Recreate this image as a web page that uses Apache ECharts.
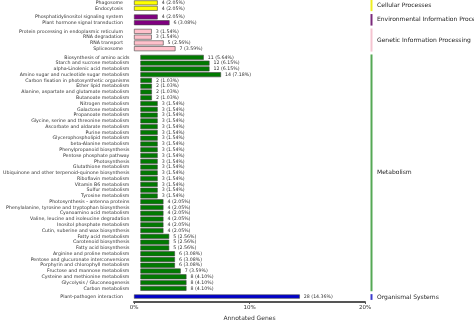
<!DOCTYPE html>
<html>
<head>
<meta charset="utf-8">
<script src="https://cdn.jsdelivr.net/npm/echarts@6/dist/echarts.min.js"></script>
<style>
  html, body { margin: 0; padding: 0; background: #fff; }
  #chart { width: 474px; height: 322px; }
</style>
</head>
<body>
<div id="chart"></div>
<script>
// KEGG pathway annotation: gene counts per pathway, grouped by class
const TOTAL_GENES = 195;

const cellularNames = ['Phagosome', 'Endocytosis'];
const cellularCounts = [4, 4];

const envNames = ['Phosphatidylinositol signaling system', 'Plant hormone signal transduction'];
const envCounts = [4, 6];

const geneticNames = ['Protein processing in endoplasmic reticulum', 'RNA degradation', 'RNA transport', 'Spliceosome'];
const geneticCounts = [3, 3, 5, 7];

const metabolismNames = [
  'Biosynthesis of amino acids', 'Starch and sucrose metabolism', 'alpha-Linolenic acid metabolism',
  'Amino sugar and nucleotide sugar metabolism', 'Carbon fixation in photosynthetic organisms',
  'Ether lipid metabolism', 'Alanine, aspartate and glutamate metabolism', 'Butanoate metabolism',
  'Nitrogen metabolism', 'Galactose metabolism', 'Propanoate metabolism',
  'Glycine, serine and threonine metabolism', 'Ascorbate and aldarate metabolism', 'Purine metabolism',
  'Glycerophospholipid metabolism', 'beta-Alanine metabolism', 'Phenylpropanoid biosynthesis',
  'Pentose phosphate pathway', 'Photosynthesis', 'Glutathione metabolism',
  'Ubiquinone and other terpenoid-quinone biosynthesis', 'Riboflavin metabolism', 'Vitamin B6 metabolism',
  'Sulfur metabolism', 'Tyrosine metabolism', 'Photosynthesis - antenna proteins',
  'Phenylalanine, tyrosine and tryptophan biosynthesis', 'Cyanoamino acid metabolism',
  'Valine, leucine and isoleucine degradation', 'Inositol phosphate metabolism',
  'Cutin, suberine and wax biosynthesis', 'Fatty acid metabolism', 'Carotenoid biosynthesis',
  'Fatty acid biosynthesis', 'Arginine and proline metabolism', 'Pentose and glucuronate interconversions',
  'Porphyrin and chlorophyll metabolism', 'Fructose and mannose metabolism',
  'Cysteine and methionine metabolism', 'Glycolysis / Gluconeogenesis', 'Carbon metabolism'
];
const metabolismCounts = [
  11, 12, 12, 14, 2, 2, 2, 2, 3, 3, 3, 3, 3, 3, 3, 3, 3, 3, 3, 3, 3, 3, 3, 3, 3,
  4, 4, 4, 4, 4, 4, 5, 5, 5, 6, 6, 6, 7, 8, 8, 8
];

const organismalNames = ['Plant-pathogen interaction'];
const organismalCounts = [28];

const groupTitles = ['Cellular Processes', 'Environmental Information Processing',
  'Genetic Information Processing', 'Metabolism', 'Organismal Systems'];

const xTicks = [0, 10, 20];

// styling per class: bar fill and side marker colour
const groups = [
  { title: groupTitles[0], names: cellularNames, counts: cellularCounts, fill: '#ffff00', mark: '#eeee22' },
  { title: groupTitles[1], names: envNames, counts: envCounts, fill: '#800080', mark: '#7b2a7b' },
  { title: groupTitles[2], names: geneticNames, counts: geneticCounts, fill: '#ffc0cb', mark: '#f4c4d0' },
  { title: groupTitles[3], names: metabolismNames, counts: metabolismCounts, fill: '#007a00', mark: '#55a855' },
  { title: groupTitles[4], names: organismalNames, counts: organismalCounts, fill: '#0000cc', mark: '#3a3acc' }
];

// layout
const ROW = 5.775;
const TOP0 = -0.4;
const LEFT = 134;
const RIGHT_EDGE = 365;
const FONT = 'DejaVu Sans';

const grids = [], xAxes = [], yAxes = [], series = [], graphics = [];
let start = 0;
groups.forEach((g, gi) => {
  const top = TOP0 + ROW * (start + 0.5 * gi);
  const height = ROW * g.names.length;
  const last = gi === groups.length - 1;
  grids.push({ left: LEFT, width: RIGHT_EDGE - LEFT, top: top, height: height });
  xAxes.push({
    type: 'value', gridIndex: gi, min: xTicks[0], max: xTicks[xTicks.length - 1], interval: 10,
    show: last, offset: 3, splitLine: { show: false },
    axisLine: { show: true, lineStyle: { color: '#555', width: 2 } },
    axisTick: { show: true, length: 2, lineStyle: { color: '#555', width: 1 } },
    axisLabel: { formatter: '{value}%', fontSize: 5.5, color: '#333', fontFamily: FONT, margin: 3 },
    name: last ? 'Annotated Genes' : '', nameLocation: 'middle', nameGap: 13,
    nameTextStyle: { fontSize: 6, color: '#333', fontFamily: FONT }
  });
  yAxes.push({
    type: 'category', gridIndex: gi, data: g.names, inverse: true,
    axisLine: { show: false }, axisTick: { show: false },
    axisLabel: { interval: 0, fontSize: 4.7, color: '#333', fontFamily: FONT, margin: 11 }
  });
  series.push({
    type: 'bar', xAxisIndex: gi, yAxisIndex: gi,
    data: g.counts.map(c => ({ value: c / TOTAL_GENES * 100, count: c })),
    barCategoryGap: '14%',
    itemStyle: { color: g.fill, borderColor: '#444', borderWidth: 0.6 },
    label: {
      show: true, position: 'right', distance: 4,
      fontSize: 4.7, color: '#333', fontFamily: FONT,
      formatter: p => p.data.count + ' (' + p.value.toFixed(2) + '%)'
    },
    silent: true, animation: false
  });
  // class marker line and title on the right
  graphics.push({
    type: 'rect', shape: { x: 370.5, y: Math.max(top, 0), width: 2, height: height - Math.max(0, -top) },
    style: { fill: g.mark }
  });
  graphics.push({
    type: 'text', x: 377, y: top + height / 2,
    style: { text: g.title, fontSize: 6, fill: '#222', fontFamily: FONT,
      verticalAlign: 'middle', align: 'left' }
  });
  start += g.names.length;
});

const chart = echarts.init(document.getElementById('chart'), null, { renderer: 'canvas' });
chart.setOption({
  backgroundColor: '#fff',
  animation: false,
  grid: grids, xAxis: xAxes, yAxis: yAxes, series: series,
  graphic: graphics
});
</script>
</body>
</html>
